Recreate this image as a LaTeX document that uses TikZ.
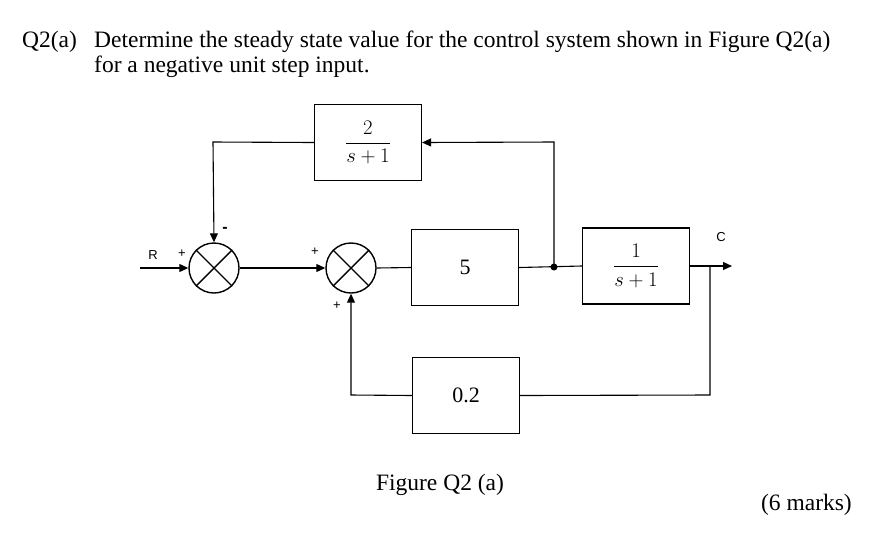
\documentclass[tikz,border=0pt]{standalone}
\usepackage{amsmath}
\usepackage{fontspec}
\setmainfont{Liberation Serif}
\newfontfamily\lsans{Liberation Sans}
\usetikzlibrary{arrows.meta,shapes.geometric}
\begin{document}
\begin{tikzpicture}[x=1pt,y=-1pt,
  blk/.style={draw,line width=1.1pt,minimum width=107pt,minimum height=76pt,inner sep=0pt,font=\fontsize{22}{26}\selectfont},
  sum/.style={draw,ellipse,line width=1.4pt,minimum width=50pt,minimum height=50pt,inner sep=0pt},
  ln/.style={line width=1.1pt},
  ar/.style={ln,-{Triangle[length=9pt,width=8pt]}},
  lab/.style={font=\lsans\fontsize{13}{15}\selectfont,inner sep=0pt},
  txt/.style={font=\fontsize{23.5}{27}\selectfont,inner sep=0pt,anchor=base west}]
\useasboundingbox (0,0) rectangle (891,542);
\node[txt] (q) at (22,47) {Q2(a)};
\node[txt] (l1) at (94,47) {Determine the steady state value for the control system shown in Figure Q2(a)};
\node[txt] (l2) at (94,72) {for a negative unit step input.};
\node[blk] (g2) at (368,142.5) {$\dfrac{2}{s+1}$};
\node[sum] (s1) at (214,268) {};
\node[sum] (s2) at (351,268) {};
\draw[line width=1.4pt] (s1.north west)--(s1.south east) (s1.north east)--(s1.south west);
\draw[line width=1.4pt] (s2.north west)--(s2.south east) (s2.north east)--(s2.south west);
\node[blk] (g5) at (465,267.5) {5};
\node[blk] (g1) at (636,266) {$\dfrac{1}{s+1}$};
\node[blk] (h) at (466,395.5) {0.2};
\coordinate (rin) at (140,268);
\coordinate (j) at (554,267);
\coordinate (tr) at (554,142);
\coordinate (tl) at (213,142);
\coordinate (out) at (732,266);
\coordinate (br) at (710,266);
\coordinate (bb) at (710,395);
\coordinate (bl) at (351,395);
\draw[ar] (rin) -- (s1.west);
\draw[ar] (s1.east) -- (s2.west);
\draw[ln] (s2.east) -- (g5.west);
\draw[ln] (g5.east) -- (g1.west);
\draw[ar] (g1.east) -- (out);
\draw[ar] (j) -- (tr) -- (g2.east);
\draw[ar] (g2.west) -- (tl) -- (s1.north);
\draw[ln] (br) -- (bb) -- (h.east);
\draw[ar] (h.west) -- (bl) -- (s2.south);
\fill (j) circle (3.5pt);
\node[lab] (R) at (153,255) {R};
\node[lab] (p1) at (182,254) {+};
\node[lab,font=\lsans\bfseries\fontsize{16}{16}\selectfont] (m1) at (225,230) {-};
\node[lab] (p2) at (315,252) {+};
\node[lab] (p3) at (337,306) {+};
\node[lab] (C) at (721,237) {C};
\node[font=\fontsize{23.5}{27}\selectfont,inner sep=0pt,anchor=base] (cap) at (440,490) {Figure Q2 (a)};
\node[font=\fontsize{23.5}{27}\selectfont,inner sep=0pt,anchor=base east] (mk) at (852,510) {(6 marks)};
\end{tikzpicture}
\end{document}
